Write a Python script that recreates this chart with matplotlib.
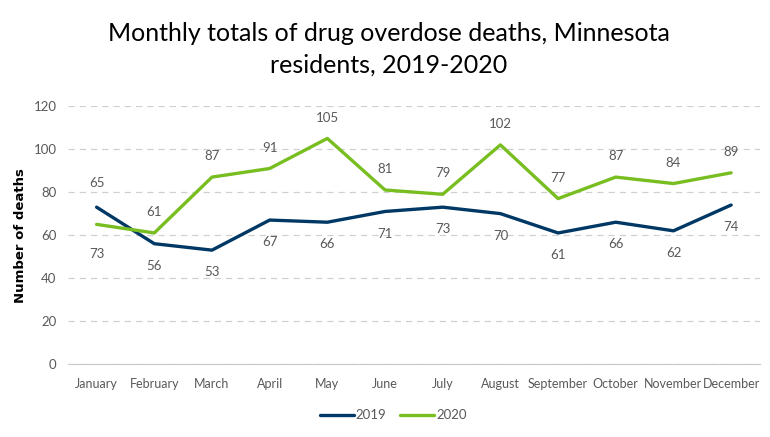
import numpy as np
import matplotlib.pyplot as plt

months = ['January', 'February', 'March', 'April', 'May', 'June', 'July',
          'August', 'September', 'October', 'November', 'December']
deaths_2019 = [73, 56, 53, 67, 66, 71, 73, 70, 61, 66, 62, 74]
deaths_2020 = [65, 61, 87, 91, 105, 81, 79, 102, 77, 87, 84, 89]

# label offsets in points (January labels were nudged apart in the original)
off_2019 = [-34, -16, -16, -16, -16, -16, -16, -16, -16, -16, -16, -16]
off_2020 = [30, 15, 15, 15, 15, 15, 15, 15, 15, 15, 15, 15]

navy = '#003865'
green = '#78BE21'
grey = '#595959'

plt.rcParams['font.family'] = ['Lato', 'DejaVu Sans']

fig = plt.figure(figsize=(7.7, 4.37), dpi=100)
ax = fig.add_axes([0.088, 0.167, 0.899, 0.59])

x = np.arange(len(months))
ax.plot(x, deaths_2019, color=navy, lw=2.4, label='2019', solid_capstyle='round')
ax.plot(x, deaths_2020, color=green, lw=2.4, label='2020', solid_capstyle='round')

for xi, v, o in zip(x, deaths_2019, off_2019):
    ax.annotate(str(v), (xi, v), xytext=(0, o), textcoords='offset points',
                ha='center', va='center', fontsize=9.5, color=grey)
for xi, v, o in zip(x, deaths_2020, off_2020):
    ax.annotate(str(v), (xi, v), xytext=(0, o), textcoords='offset points',
                ha='center', va='center', fontsize=9.5, color=grey)

ax.set_xlim(-0.5, len(months) - 0.5)
ax.set_ylim(0, 120)
ax.set_yticks(range(0, 121, 20))
ax.set_xticks(x)
ax.set_xticklabels(months)
ax.yaxis.grid(True, color='#d0d0d0', ls=(0, (5, 4)), lw=0.9)
ax.set_axisbelow(True)
for s in ['top', 'right', 'left']:
    ax.spines[s].set_visible(False)
ax.spines['bottom'].set_color('#c8c8c8')
ax.tick_params(length=0, labelsize=9.5, colors=grey)
ax.tick_params(axis='x', pad=10, labelsize=9)
ax.tick_params(axis='y', pad=8)

ax.set_ylabel('Number of deaths', fontsize=9.5, fontweight='bold',
              family='DejaVu Sans', color='black', labelpad=5)

fig.suptitle('Monthly totals of drug overdose deaths, Minnesota\nresidents, 2019-2020',
             fontsize=18, y=0.95, x=0.505, linespacing=1.45, color='black')

ax.legend(loc='upper center', bbox_to_anchor=(0.47, -0.13), ncol=2, frameon=False,
          fontsize=9.5, handlelength=2.6, handletextpad=0.15, columnspacing=1.0,
          labelcolor=grey)

fig.savefig('out.png', dpi=100)
